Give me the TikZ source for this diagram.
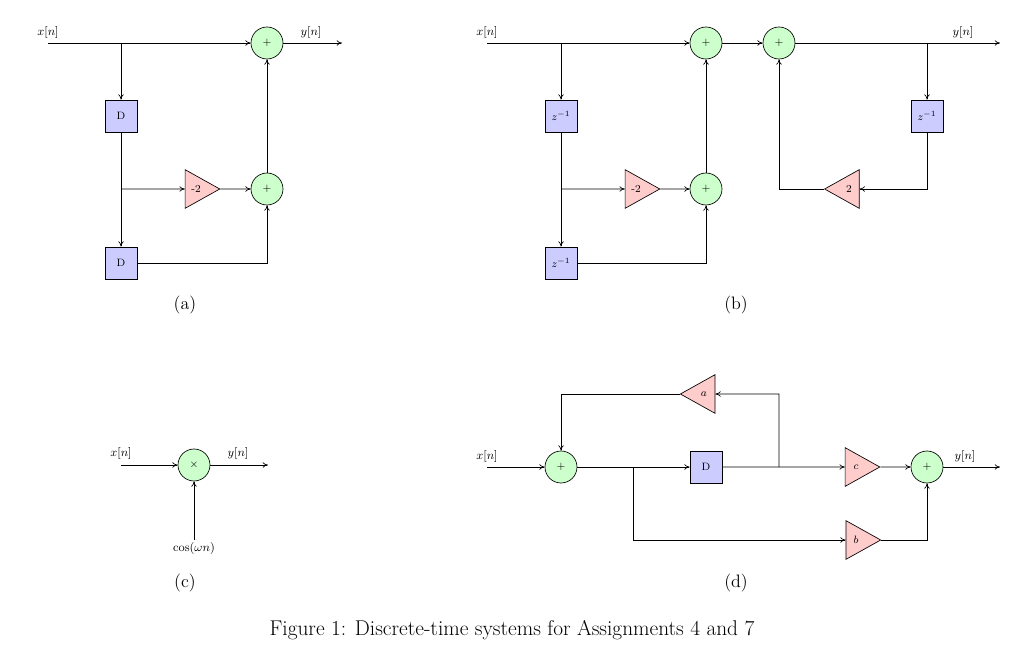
\documentclass[tikz,border=0pt]{standalone}
\usetikzlibrary{shapes.geometric,arrows.meta}
\begin{document}
\begin{tikzpicture}[x=0.75pt,y=-0.75pt,
  >={To[length=4pt,width=4pt]}, line width=0.5pt,
  add/.style={circle,draw,fill=green!20,minimum size=24pt,inner sep=0pt,font=\fontsize{8}{9}\selectfont},
  dly/.style={rectangle,draw,fill=blue!20,minimum size=24pt,inner sep=0pt,font=\fontsize{8}{9}\selectfont},
  gr/.style={isosceles triangle,draw,fill=red!20,isosceles triangle apex angle=58,isosceles triangle stretches,minimum height=26pt,minimum width=29pt,inner sep=0pt,font=\fontsize{8}{9}\selectfont},
  gl/.style={gr,shape border rotate=180},
  lab/.style={font=\fontsize{9}{10}\selectfont,inner sep=1pt},
  sub/.style={font=\fontsize{13.5}{15}\selectfont}]
\useasboundingbox (0,0) rectangle (1024,660);
% (a)
\coordinate (ain) at (48,43); \coordinate (aout) at (342,43);
\node[lab] at (48,33) {$x[n]$}; \node[lab] at (311,33) {$y[n]$};
\node[add] (aa1) at (267,43) {+};
\node[add] (aa2) at (267,189) {+};
\node[dly] (ad1) at (121,116) {D};
\node[dly] (ad2) at (121,263) {D};
\node[gr] (ag) at (196,189) {-2};
\coordinate (ab1) at (121,43); \coordinate (ab2) at (121,189);
\draw[->] (ain) -- (aa1); \draw[->] (aa1) -- (aout);
\draw[->] (ab1) -- (ad1); \draw[->] (ad1) -- (ad2);
\draw[->] (ab2) -- (ag); \draw[->] (ag) -- (aa2);
\draw[->] (aa2) -- (aa1);
\draw[->] (ad2) -| (aa2);
\node[sub] at (185,305) {(a)};
% (b)
\coordinate (bin) at (487,43); \coordinate (bout) at (1000,43);
\node[lab] at (487,33) {$x[n]$}; \node[lab] at (963,33) {$y[n]$};
\node[add] (ba1) at (706,43) {+};
\node[add] (ba2) at (706,189) {+};
\node[add] (ba3) at (779,43) {+};
\node[dly] (bd1) at (561,116) {$z^{-1}$};
\node[dly] (bd2) at (561,263) {$z^{-1}$};
\node[dly] (bd3) at (927,116) {$z^{-1}$};
\node[gr] (bg) at (636,189) {-2};
\node[gl] (bg2) at (849,189) {2};
\coordinate (bb1) at (561,43); \coordinate (bb2) at (561,189);
\coordinate (bb3) at (927,43);
\draw[->] (bin) -- (ba1); \draw[->] (ba1) -- (ba3); \draw[->] (ba3) -- (bout);
\draw[->] (bb1) -- (bd1); \draw[->] (bd1) -- (bd2);
\draw[->] (bb2) -- (bg); \draw[->] (bg) -- (ba2);
\draw[->] (ba2) -- (ba1);
\draw[->] (bd2) -| (ba2);
\draw[->] (bb3) -- (bd3); \draw[->] (bd3) |- (bg2);
\draw[->] (bg2) -| (ba3);
\node[sub] at (736,305) {(b)};
% (c)
\coordinate (cin) at (121,465); \coordinate (cout) at (268,465);
\node[lab] at (121,453) {$x[n]$}; \node[lab] at (238,453) {$y[n]$};
\node[add] (cm) at (194,465) {$\times$};
\node[lab] (cc) at (194,548) {$\cos(\omega n)$};
\draw[->] (cin) -- (cm); \draw[->] (cm) -- (cout);
\draw[->] (cc) -- (cm);
\node[sub] at (185,583) {(c)};
% (d)
\coordinate (din) at (487,467); \coordinate (dout) at (1000,467);
\node[lab] at (487,456) {$x[n]$}; \node[lab] at (965,456) {$y[n]$};
\node[add] (da1) at (561,467) {+};
\node[add] (da2) at (927,467) {+};
\node[dly] (dd) at (706,467) {D};
\node[gr] (dc) at (856,467) {$c$};
\node[gr] (db) at (856,540) {$b$};
\node[gl] (dga) at (704,394) {$a$};
\coordinate (db1) at (633,467); \coordinate (db2) at (779,467);
\coordinate (db3) at (779,394);
\draw[->] (din) -- (da1); \draw[->] (da1) -- (dd); \draw[->] (dd) -- (dc);
\draw[->] (dc) -- (da2); \draw[->] (da2) -- (dout);
\draw[->] (db1) |- (db); \draw[->] (db) -| (da2);
\draw[->] (db2) -- (db3) -- (dga);
\draw[->] (dga) -| (da1);
\node[sub] at (736,583) {(d)};
\node[font=\fontsize{16}{19}\selectfont] at (512,630) {Figure 1: Discrete-time systems for Assignments 4 and 7};
\end{tikzpicture}
\end{document}
